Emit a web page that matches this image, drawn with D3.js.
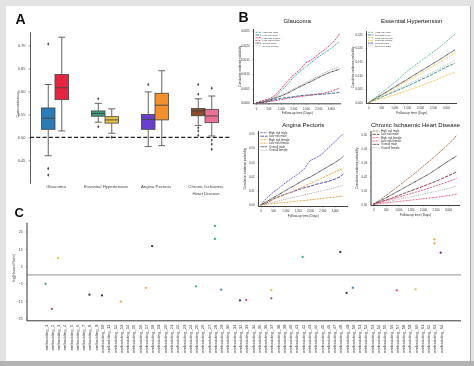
<!DOCTYPE html>
<html><head><meta charset="utf-8">
<script src="https://cdn.jsdelivr.net/npm/d3@7"></script>
<style>body{margin:0;background:#e3e3e3;}svg{display:block;font-family:"Liberation Sans",Arial,sans-serif;will-change:transform;-webkit-font-smoothing:antialiased;}</style>
</head><body><svg width="474" height="366"></svg>
<script>
// ---------- DATA ----------
// Panel A
const diseases = ["Glaucoma","Essential Hypertension","Angina Pectoris","Chronic Ischaemic Heart Disease"];
// [whiskerLow, q1, median, q3, whiskerHigh]
const leftBoxStats = [[0.460,0.5175,0.5415,0.564,0.615],[0.533,0.546,0.552,0.5575,0.574],[0.480,0.5175,0.539,0.550,0.599],[0.526,0.547,0.5575,0.563,0.584]];
const rightBoxStats = [[0.514,0.582,0.608,0.637,0.718],[0.509,0.531,0.538,0.545,0.562],[0.482,0.538,0.570,0.596,0.645],[0.503,0.532,0.5466,0.561,0.590]];
const leftOutliers = [[0.703,0.432,0.418],[0.584,0.523],[0.615],[0.615,0.594,0.521,0.514,0.504]];
const rightOutliers = [[],[0.50],[],[0.607,0.494,0.485,0.474]];
const leftColors = ["#2c7bb6","#3d9e7c","#6b3fce","#8b4d2e"];
const rightColors = ["#e6243f","#e9c246","#f4902a","#ec6e95"];
const yTicksA = [0.45,0.50,0.55,0.60,0.65,0.70];

// Panel B
const days = [0,250,500,750,1000,1250,1500,1750,2000,2250,2500,2750,3000,3250,3350];
const seriesNames = ["High risk male","Low risk male","High risk female","Low risk female","Overall male","Overall female"];
const xTicksB = [0,500,1000,1500,2000,2500,3000];
const glauHighMale = [0,0.00007,0.00011,0.00019,0.0004,0.00063,0.00089,0.00108,0.00125,0.00142,0.00159,0.00174,0.00188,0.00205,0.00214];
const glauLowMale = [0,0.000023,0.000057,0.000114,0.000159,0.000193,0.000216,0.00025,0.000273,0.000284,0.000295,0.000307,0.00033,0.000352,0.000375];
const glauHighFemale = [0,0.00008,0.000136,0.00025,0.00048,0.00074,0.00097,0.00114,0.00139,0.0015,0.00168,0.00184,0.00202,0.00225,0.00239];
const glauLowFemale = [0,0.000011,0.000045,0.00008,0.000114,0.000159,0.000193,0.000216,0.00025,0.000273,0.000318,0.000341,0.000398,0.000477,0.000511];
const glauOverallMale = [0,0.000034,0.000091,0.000159,0.000239,0.00033,0.000443,0.000557,0.000659,0.000761,0.000875,0.000977,0.001068,0.001136,0.00117];
const glauOverallFemale = [0,0.000045,0.000114,0.000193,0.000273,0.000364,0.000477,0.000591,0.000705,0.000818,0.000932,0.001034,0.001136,0.001216,0.00125];
const ehHighMale = [0,0.00175,0.0036,0.0054,0.00725,0.00925,0.0115,0.01325,0.015,0.01675,0.0185,0.02025,0.02225,0.02425,0.025];
const ehLowMale = [0,0.001,0.002,0.003,0.004,0.005,0.006,0.0071,0.00825,0.00935,0.0105,0.01175,0.013,0.014,0.0144];
const ehHighFemale = [0,0.00125,0.0026,0.0039,0.00525,0.0066,0.008,0.00935,0.01065,0.012,0.01335,0.01475,0.01625,0.01775,0.01825];
const ehLowFemale = [0,0.0007,0.0014,0.0021,0.0028,0.0036,0.0044,0.00525,0.0061,0.007,0.0079,0.0089,0.0099,0.01075,0.0111];
const ehOverallMale = [0,0.0014,0.0028,0.00425,0.00565,0.0071,0.0085,0.01,0.0114,0.01285,0.0143,0.01575,0.01725,0.01875,0.0194];
const ehOverallFemale = [0,0.00105,0.00215,0.00325,0.0044,0.0055,0.00665,0.00775,0.0089,0.01,0.01125,0.0125,0.01375,0.015,0.0155];
const apHighMale = [0,0.005,0.0087,0.012,0.0155,0.0185,0.0215,0.025,0.031,0.033,0.0358,0.04,0.044,0.0485,0.0493];
const apLowMale = [0,0.0015,0.004,0.006,0.0075,0.009,0.0105,0.012,0.013,0.0145,0.0155,0.0165,0.018,0.02,0.0217];
const apHighFemale = [0,0.002,0.0038,0.0055,0.0075,0.0093,0.0112,0.013,0.015,0.017,0.019,0.021,0.023,0.025,0.0257];
const apLowFemale = [0,0.0005,0.001,0.0014,0.0018,0.0022,0.0027,0.0031,0.0036,0.0041,0.0046,0.0051,0.0056,0.0061,0.0064];
const apOverallMale = [0,0.0025,0.005,0.0075,0.01,0.0125,0.015,0.0175,0.0195,0.022,0.0245,0.027,0.0295,0.0325,0.034];
const apOverallFemale = [0,0.001,0.002,0.003,0.004,0.005,0.006,0.007,0.008,0.009,0.01,0.011,0.012,0.0133,0.0139];
const cihHighMale = [0,0.003,0.0062,0.0095,0.013,0.0165,0.02,0.0235,0.0275,0.031,0.035,0.039,0.043,0.0475,0.05];
const cihLowMale = [0,0.0015,0.003,0.0045,0.0062,0.008,0.0097,0.0113,0.013,0.0147,0.0165,0.0185,0.0205,0.0225,0.0236];
const cihHighFemale = [0,0.0012,0.0025,0.0038,0.005,0.0063,0.0077,0.009,0.0104,0.0118,0.0133,0.0148,0.0163,0.018,0.019];
const cihLowFemale = [0,0.0005,0.001,0.0015,0.002,0.0025,0.003,0.0035,0.004,0.0045,0.005,0.0056,0.0062,0.007,0.0075];
const cihOverallMale = [0,0.0022,0.0045,0.007,0.0095,0.012,0.0145,0.017,0.0195,0.022,0.025,0.028,0.031,0.0338,0.035];
const cihOverallFemale = [0,0.0008,0.0017,0.0026,0.0035,0.0045,0.0054,0.0063,0.0073,0.0083,0.0093,0.0103,0.0114,0.0127,0.0135];

// Panel C
const embeddings = d3.range(1,65).map(i => "embedding_" + i);
const hrEmbedding = [1,2,3,8,10,13,17,18,25,28,28,29,32,33,37,37,42,48,49,50,57,60,63,63,64];
const hrValue = [-5.1,-19.6,9.7,-11.4,-11.8,-15.4,-7.5,16.6,-6.6,28.2,20.7,-8.5,-14.7,-14.5,-8.7,-13.5,10.3,13.2,-10.4,-7.4,-8.9,-8.3,20.5,18.2,12.8];
const hrColor = ["#3fa99a","#a8558a","#e8c84a","#35355e","#35355e","#f0a530","#f0b440","#3a1e40","#3fa99a","#3aa88e","#3aa88e","#3f9aa8","#35355e","#a8558a","#e8c84a","#a8558a","#3cb59f","#35355e","#35355e","#4d8fb0","#e0405a","#e8c04a","#e8a030","#e8a030","#6b2f7a"];
const yTicksC = [25,15,5,-5,-15,-25];

// ---------- DRAW ----------
const svg = d3.select("svg");
svg.append("rect").attr("width",474).attr("height",366).attr("fill","#e3e3e3");
svg.append("rect").attr("x",6).attr("y",6).attr("width",464).attr("height",355).attr("fill","#fff");
svg.append("rect").attr("x",0).attr("y",361).attr("width",474).attr("height",5).attr("fill","#b3b3b3");
svg.append("line").attr("x1",470.5).attr("x2",470.5).attr("y1",6).attr("y2",361).attr("stroke","#aaa").attr("stroke-width",1);

function letter(t,x,y,fs){svg.append("text").attr("x",x).attr("y",y).attr("font-size",fs).attr("font-weight","bold").attr("fill","#111").text(t);}
letter("A",15.5,23.5,14); letter("B",238.5,22,14); letter("C",14.5,217,13);

// ---- Panel A ----
const yA = d3.scaleLinear().domain([0.40,0.73]).range([183.3,31.7]);
const xA = d3.scaleBand().domain(diseases).range([30,230]);
const gA = svg.append("g");
const axA = gA.append("g").attr("transform","translate(30,0)").call(d3.axisLeft(yA).tickValues(yTicksA).tickFormat(d3.format(".2f")).tickSize(1.5).tickSizeOuter(0));
axA.selectAll("text").attr("font-size",4).attr("fill","#444");
axA.selectAll("line").attr("stroke","#333").attr("stroke-width",0.5);
axA.select(".domain").attr("stroke","#333").attr("stroke-width",0.8);
gA.append("text").attr("transform","translate(18.5,105) rotate(-90)").attr("text-anchor","middle").attr("font-size",4.2).attr("fill","#444").text("Concordance");
gA.append("line").attr("x1",30).attr("x2",231).attr("y1",yA(0.5)).attr("y2",yA(0.5)).attr("stroke","#222").attr("stroke-width",1.3).attr("stroke-dasharray","4,2.3");

function drawBox(cx,w,st,out,col){
  const g = gA.append("g");
  g.append("line").attr("x1",cx).attr("x2",cx).attr("y1",yA(st[0])).attr("y2",yA(st[1])).attr("stroke","#555").attr("stroke-width",0.9);
  g.append("line").attr("x1",cx).attr("x2",cx).attr("y1",yA(st[3])).attr("y2",yA(st[4])).attr("stroke","#555").attr("stroke-width",0.9);
  [st[0],st[4]].forEach(v=>g.append("line").attr("x1",cx-3.5).attr("x2",cx+3.5).attr("y1",yA(v)).attr("y2",yA(v)).attr("stroke","#555").attr("stroke-width",0.9));
  g.append("rect").attr("x",cx-w/2).attr("width",w).attr("y",yA(st[3])).attr("height",yA(st[1])-yA(st[3])).attr("fill",col).attr("stroke","#444").attr("stroke-width",0.8);
  g.append("line").attr("x1",cx-w/2).attr("x2",cx+w/2).attr("y1",yA(st[2])).attr("y2",yA(st[2])).attr("stroke","#444").attr("stroke-width",0.9);
  out.forEach(v=>g.append("path").attr("d",d3.symbol(d3.symbolDiamond).size(3.5)()).attr("transform",`translate(${cx},${yA(v)})`).attr("fill","#444"));
}
diseases.forEach((d,i)=>{
  const c = xA(d)+xA.bandwidth()/2, w=13.5;
  drawBox(c-w/2,w,leftBoxStats[i],leftOutliers[i],leftColors[i]);
  drawBox(c+w/2,w,rightBoxStats[i],rightOutliers[i],rightColors[i]);
  const words = i===3 ? ["Chronic Ischaemic","Heart Disease"] : [d];
  words.forEach((t,k)=>gA.append("text").attr("x",c+1).attr("y",188+k*6.8).attr("text-anchor","middle").attr("font-size",4.3).attr("fill","#444").text(t));
});

// ---- Panel B ----
function drawKM(cfg){
  const g = svg.append("g");
  const x = d3.scaleLinear().domain([0,3350]).range([cfg.xs,cfg.xe]);
  const y = d3.scaleLinear().domain([0,cfg.ymax]).range([cfg.y0,cfg.ytop]);
  const ticks = d3.range(6).map(k=>k*cfg.ymax/5);
  const ay = g.append("g").attr("transform",`translate(${cfg.x0},0)`).call(d3.axisLeft(y).tickValues(ticks).tickFormat(d3.format(cfg.fmt)).tickSize(1).tickSizeOuter(0));
  ay.select(".domain").remove();
  const ax = g.append("g").attr("transform",`translate(0,${cfg.yb})`).call(d3.axisBottom(x).tickValues(xTicksB).tickSize(1).tickSizeOuter(0));
  ax.select(".domain").remove();
  [ay,ax].forEach(a=>{a.selectAll("text").attr("font-size",2.8).attr("fill","#333");a.selectAll("line").attr("stroke","#333").attr("stroke-width",0.4);});
  g.append("line").attr("x1",cfg.x0).attr("x2",cfg.x0).attr("y1",cfg.yt).attr("y2",cfg.yb).attr("stroke","#111").attr("stroke-width",0.8);
  g.append("line").attr("x1",cfg.x0).attr("x2",cfg.x1).attr("y1",cfg.yb).attr("y2",cfg.yb).attr("stroke","#111").attr("stroke-width",0.8);
  g.append("text").attr("x",(cfg.x0+cfg.x1)/2).attr("y",cfg.ty).attr("text-anchor","middle").attr("font-size",6).attr("fill","#111").text(cfg.title);
  g.append("text").attr("x",(cfg.x0+cfg.x1)/2).attr("y",cfg.yb+10).attr("text-anchor","middle").attr("font-size",3.2).attr("fill","#333").text("Follow-up time (Days)");
  g.append("text").attr("transform",`translate(${cfg.x0-13},${(cfg.yt+cfg.yb)/2}) rotate(-90)`).attr("text-anchor","middle").attr("font-size",2.9).attr("fill","#333").text("Cumulative incidence probability");
  const line = d3.line().x((v,i)=>x(days[i])).y(v=>y(v)).curve(d3.curveLinear);
  const dashes = ["2.2,0.9","3.5,1","2.2,0.9","1.4,0.7,0.5,0.7","0.9,0.5","1,0.9"];
  cfg.series.forEach((s,k)=>{
    g.append("path").attr("d",line(s)).attr("fill","none").attr("stroke",cfg.colors[k]).attr("stroke-width",k===4?1:0.9).attr("stroke-dasharray",dashes[k]);
  });
  seriesNames.forEach((n,k)=>{
    const yy = cfg.ly + k*cfg.ls;
    g.append("line").attr("x1",cfg.lx).attr("x2",cfg.lx+cfg.lw).attr("y1",yy).attr("y2",yy).attr("stroke",cfg.colors[k]).attr("stroke-width",0.85).attr("stroke-dasharray",dashes[k]);
    g.append("text").attr("x",cfg.lx+cfg.lw+1.5).attr("y",yy+0.9).attr("font-size",cfg.lf).attr("fill","#333").text(n);
  });
}
drawKM({title:"Glaucoma",x0:253.5,x1:341,yt:29,yb:103.8,xs:256,xe:339.4,y0:103,ytop:30.7,ymax:0.0025,fmt:".4f",ty:23,
  series:[glauHighMale,glauLowMale,glauHighFemale,glauLowFemale,glauOverallMale,glauOverallFemale],
  colors:["#3fa7b3","#2e6f92","#e8336b","#c2185b","#222","#9a9a9a"],lx:255.5,ly:32.3,ls:2.7,lw:5.5,lf:2.5});
drawKM({title:"Essential Hypertension",x0:366.5,x1:457,yt:31,yb:103.5,xs:368.3,xe:455,y0:102.7,ytop:34.3,ymax:0.025,fmt:".3f",ty:23,
  series:[ehHighMale,ehLowMale,ehHighFemale,ehLowFemale,ehOverallMale,ehOverallFemale],
  colors:["#5cc0a0","#3a8f8a","#f2d050","#e8b830","#1e1e44","#b5b5b5"],lx:368,ly:32.3,ls:2.7,lw:5.5,lf:2.5});
drawKM({title:"Angina Pectoris",x0:258.5,x1:348,yt:131,yb:206.5,xs:260.7,xe:343.3,y0:205,ytop:133.5,ymax:0.05,fmt:".2f",ty:126.5,
  series:[apHighMale,apLowMale,apHighFemale,apLowFemale,apOverallMale,apOverallFemale],
  colors:["#6a4fd0","#4636a8","#f5a040","#e08a20","#222","#aaa"],lx:260.5,ly:132.7,ls:3.5,lw:7,lf:2.9});
drawKM({title:"Chronic Ischaemic Heart Disease",x0:371,x1:460,yt:131,yb:205.5,xs:373.3,xe:456.7,y0:204.3,ytop:135,ymax:0.05,fmt:".2f",ty:126.5,
  series:[cihHighMale,cihLowMale,cihHighFemale,cihLowFemale,cihOverallMale,cihOverallFemale],
  colors:["#a8683c","#8b3030","#e05a8a","#d0407a","#222","#aaa"],lx:372.5,ly:131,ls:3.35,lw:7,lf:2.9});

// ---- Panel C ----
const yC = d3.scaleLinear().domain([-25,25]).range([318.3,231.5]);
const xC = d3.scalePoint().domain(embeddings).range([45.5,440.7]);
const gC = svg.append("g");
gC.append("line").attr("x1",27).attr("x2",461).attr("y1",yC(0)).attr("y2",yC(0)).attr("stroke","#888").attr("stroke-width",0.9);
const ayC = gC.append("g").attr("transform","translate(27,0)").call(d3.axisLeft(yC).tickValues(yTicksC).tickFormat(d3.format("d")).tickSize(1.2).tickSizeOuter(0));
ayC.select(".domain").remove();
ayC.selectAll("text").attr("font-size",3.6).attr("fill","#444");
ayC.selectAll("line").attr("stroke","#444").attr("stroke-width",0.4);
gC.append("line").attr("x1",27).attr("x2",27).attr("y1",222.7).attr("y2",321).attr("stroke","#222").attr("stroke-width",0.9);
gC.append("line").attr("x1",27).attr("x2",461).attr("y1",320.8).attr("y2",320.8).attr("stroke","#222").attr("stroke-width",0.9);
gC.append("text").attr("transform","translate(15,268) rotate(-90)").attr("text-anchor","middle").attr("font-size",3.6).attr("fill","#444").text("log(Hazard Ratio)");
const axC = gC.append("g").attr("transform","translate(0,321)").call(d3.axisBottom(xC).tickSize(0));
axC.select(".domain").remove();
axC.selectAll("text").attr("font-size",4.3).attr("fill","#444").attr("text-anchor","end").attr("dy","0.35em").attr("transform","translate(0,3.5) rotate(-90)").attr("x",0).attr("y",0);
hrEmbedding.forEach((e,i)=>{
  gC.append("circle").attr("cx",xC("embedding_"+e)).attr("cy",yC(hrValue[i])).attr("r",1.15).attr("fill",hrColor[i]);
});
</script></body></html>
